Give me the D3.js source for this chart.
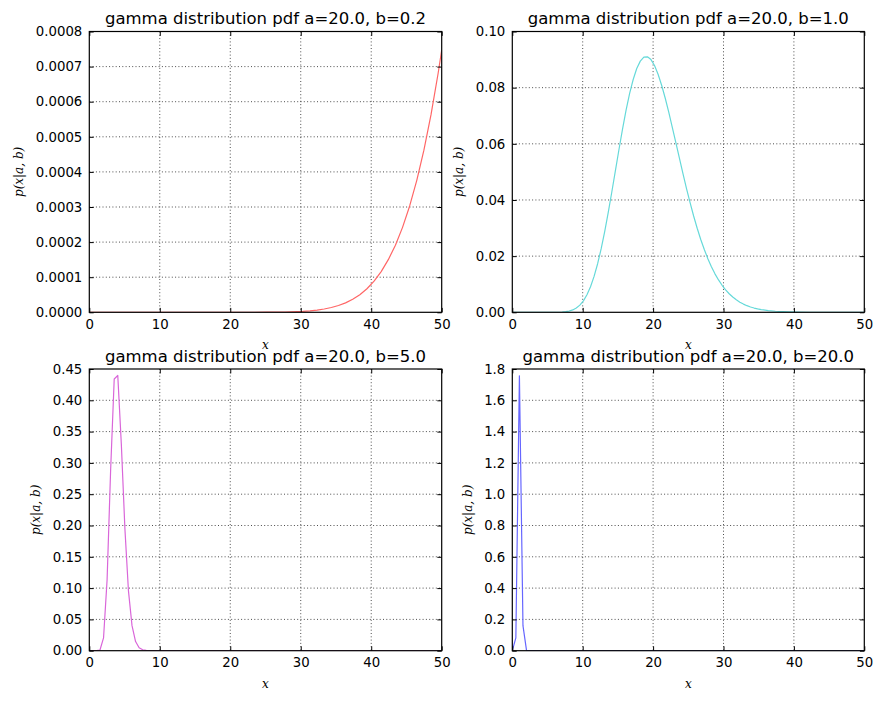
<!DOCTYPE html>
<html>
<head>
<meta charset="utf-8">
<script src="https://cdn.jsdelivr.net/npm/d3@7/dist/d3.min.js"></script>
<style>
  html, body { margin: 0; padding: 0; background: #fff; }
  svg { display: block; }
  .tick text { font-family: "DejaVu Sans", sans-serif; font-size: 13.3px; fill: #000; }
  .title { font-family: "DejaVu Sans", sans-serif; font-size: 16.5px; fill: #000; }
  .mathlabel { font-family: "DejaVu Serif", "Liberation Serif", serif; font-style: italic; font-size: 12px; fill: #000; }
</style>
</head>
<body>
<div id="chart"></div>
<script>
// Samples of the plotted curves (x on a 0..50 grid)
const xTicks = [0, 10, 20, 30, 40, 50];

// a=20.0, b=0.2
const xA = [0, 20.202, 25.253, 27.778, 30.303, 31.313, 32.323, 33.333, 34.343, 35.354,
  36.364, 37.374, 38.384, 39.394, 40.404, 41.414, 42.424, 43.434, 44.444, 45.455,
  46.465, 47.475, 48.485, 49.495, 50];
const yA = [0, 0, 2.4e-7, 9.0e-7, 2.82e-6, 4.3e-6, 6.4e-6, 9.4e-6, 1.36e-5, 1.93e-5,
  2.69e-5, 3.70e-5, 5.02e-5, 6.71e-5, 8.88e-5, 1.16e-4, 1.50e-4, 1.91e-4, 2.42e-4, 3.03e-4,
  3.76e-4, 4.62e-4, 5.63e-4, 6.81e-4, 7.47e-4];
const yTicksA = [0, 0.0001, 0.0002, 0.0003, 0.0004, 0.0005, 0.0006, 0.0007, 0.0008];

// a=20.0, b=1.0
const xB = [0, 5.051, 6.061, 7.071, 7.576, 8.081, 8.586, 9.091, 9.596, 10.101,
  10.606, 11.111, 11.616, 12.121, 12.626, 13.131, 13.636, 14.141, 14.646, 15.152,
  15.657, 16.162, 16.667, 17.172, 17.677, 18.182, 18.687, 19.192, 19.697, 20.202,
  20.707, 21.212, 21.717, 22.222, 22.727, 23.232, 23.737, 24.242, 24.747, 25.253,
  25.758, 26.263, 26.768, 27.273, 27.778, 28.283, 28.788, 29.293, 29.798, 30.303,
  30.808, 31.313, 31.818, 32.323, 32.828, 33.333, 33.838, 34.343, 34.848, 35.354,
  36.364, 37.374, 38.384, 39.394, 40.404, 42.424, 45.455, 50];
const yB = [0, 1.21e-6, 1.41e-5, 9.65e-5, 2.155e-4, 4.44e-4, 8.48e-4, 1.514e-3, 2.55e-3, 4.085e-3,
  6.23e-3, 9.10e-3, 0.01278, 0.01730, 0.02267, 0.02884, 0.03565, 0.04293, 0.05048, 0.05797,
  0.06522, 0.07202, 0.07794, 0.08291, 0.08681, 0.08945, 0.09090, 0.09099, 0.09000, 0.08787,
  0.08476, 0.08087, 0.07632, 0.07130, 0.06588, 0.06039, 0.05487, 0.04939, 0.04407, 0.03905,
  0.03429, 0.02993, 0.02594, 0.02235, 0.01910, 0.01623, 0.01370, 0.01152, 0.00962, 0.00800,
  0.00661, 0.00543, 0.00444, 0.00361, 0.002928, 0.002360, 0.001896, 0.001516, 0.001207, 0.000958,
  0.000595, 0.000365, 0.000221, 0.000132, 0.0000776, 0.000026, 0.0000046, 0];
const yTicksB = [0, 0.02, 0.04, 0.06, 0.08, 0.10];

// a=20.0, b=5.0
const xC = [0, 0.505, 1.010, 1.515, 2.020, 2.525, 3.030, 3.535, 4.040, 4.545,
  5.051, 5.556, 6.061, 6.566, 7.071, 7.576, 8.081, 8.586, 9.091, 50];
const yC = [0, 0, 0.000006, 0.00108, 0.0204, 0.1134, 0.290, 0.434, 0.4396, 0.330,
  0.195, 0.0955, 0.0400, 0.01464, 0.00479, 0.00142, 0.00039, 0.0001, 0.000023, 0];
const yTicksC = [0, 0.05, 0.10, 0.15, 0.20, 0.25, 0.30, 0.35, 0.40, 0.45];

// a=20.0, b=20.0
const xD = [0, 0.505, 1.010, 1.515, 2.020, 2.525, 50];
const yD = [0, 0.0817, 1.757, 0.160, 0.00155, 0.000002, 0];
const yTicksD = [0, 0.2, 0.4, 0.6, 0.8, 1.0, 1.2, 1.4, 1.6, 1.8];

const titles = ['gamma distribution pdf a=20.0, b=0.2', 'gamma distribution pdf a=20.0, b=1.0',
  'gamma distribution pdf a=20.0, b=5.0', 'gamma distribution pdf a=20.0, b=20.0'];
const colors = ['#ff6666', '#66d9d9', '#d966d9', '#6666ff'];

const W = 882, H = 701;
const cols = [[89.3, 441.7], [512.3, 864.3]];
const rows = [[31.5, 312.3], [369, 650.7]];

const panels = [
  { xs: xA, ys: yA, yTicks: yTicksA, fmt: d3.format('.4f'), col: 0, row: 0 },
  { xs: xB, ys: yB, yTicks: yTicksB, fmt: d3.format('.2f'), col: 1, row: 0 },
  { xs: xC, ys: yC, yTicks: yTicksC, fmt: d3.format('.2f'), col: 0, row: 1 },
  { xs: xD, ys: yD, yTicks: yTicksD, fmt: d3.format('.1f'), col: 1, row: 1 }
];

const svg = d3.select('#chart').append('svg')
  .attr('width', W).attr('height', H);

const tick = 4.4;

panels.forEach((p, i) => {
  const [x0, x1] = cols[p.col];
  const [y0, y1] = rows[p.row];
  const yMax = p.yTicks[p.yTicks.length - 1];

  const x = d3.scaleLinear().domain([0, 50]).range([x0, x1]);
  const y = d3.scaleLinear().domain([0, yMax]).range([y1, y0]);

  const g = svg.append('g');

  // dotted grid
  g.append('g').selectAll('line').data(xTicks.slice(1, -1)).enter().append('line')
    .attr('x1', d => x(d)).attr('x2', d => x(d)).attr('y1', y0).attr('y2', y1)
    .attr('stroke', '#000').attr('stroke-width', 0.7).attr('stroke-dasharray', '1,2.3');
  g.append('g').selectAll('line').data(p.yTicks.slice(1, -1)).enter().append('line')
    .attr('y1', d => y(d)).attr('y2', d => y(d)).attr('x1', x0).attr('x2', x1)
    .attr('stroke', '#000').attr('stroke-width', 0.7).attr('stroke-dasharray', '1,2.3');

  // curve, clipped to the axes box
  const clipId = 'clip' + i;
  svg.append('clipPath').attr('id', clipId).append('rect')
    .attr('x', x0).attr('y', y0).attr('width', x1 - x0).attr('height', y1 - y0);

  const pts = p.xs.map((v, k) => [v, p.ys[k]]);
  g.append('path')
    .datum(pts)
    .attr('clip-path', `url(#${clipId})`)
    .attr('fill', 'none')
    .attr('stroke', colors[i])
    .attr('stroke-width', 1.2)
    .attr('stroke-linejoin', 'round')
    .attr('d', d3.line().x(d => x(d[0])).y(d => y(d[1])));

  // axes with inward ticks on all four sides
  const left = g.append('g').attr('transform', `translate(${x0},0)`)
    .call(d3.axisLeft(y).tickValues(p.yTicks).tickFormat(p.fmt).tickSizeInner(-tick).tickSizeOuter(0).tickPadding(7));
  g.append('g').attr('transform', `translate(${x1},0)`)
    .call(d3.axisRight(y).tickValues(p.yTicks).tickFormat('').tickSizeInner(-tick).tickSizeOuter(0));
  g.append('g').attr('transform', `translate(0,${y1})`)
    .call(d3.axisBottom(x).tickValues(xTicks).tickFormat(d3.format('d')).tickSizeInner(-tick).tickSizeOuter(0).tickPadding(7));
  g.append('g').attr('transform', `translate(0,${y0})`)
    .call(d3.axisTop(x).tickValues(xTicks).tickFormat('').tickSizeInner(-tick).tickSizeOuter(0));
  g.selectAll('.domain').remove();
  g.selectAll('.tick line').attr('stroke', '#000').attr('stroke-width', 1);

  g.append('rect')
    .attr('x', x0).attr('y', y0).attr('width', x1 - x0).attr('height', y1 - y0)
    .attr('fill', 'none').attr('stroke', '#000').attr('stroke-width', 1.2);

  // title
  g.append('text').attr('class', 'title')
    .attr('x', (x0 + x1) / 2).attr('y', y0 - 7.5)
    .attr('text-anchor', 'middle')
    .text(titles[i]);

  // x label
  g.append('text').attr('class', 'mathlabel')
    .attr('x', (x0 + x1) / 2).attr('y', y1 + 37)
    .attr('text-anchor', 'middle')
    .text('x');

  // y label, placed left of the widest tick label
  let maxW = 0;
  left.selectAll('.tick text').each(function () {
    maxW = Math.max(maxW, this.getBBox().width);
  });
  const lx = x0 - 7 - maxW - 16.5;
  const ly = (y0 + y1) / 2;
  g.append('text').attr('class', 'mathlabel')
    .attr('transform', `translate(${lx},${ly}) rotate(-90)`)
    .attr('text-anchor', 'middle')
    .attr('dominant-baseline', 'central')
    .text('p(x|a, b)');
});
</script>
</body>
</html>
